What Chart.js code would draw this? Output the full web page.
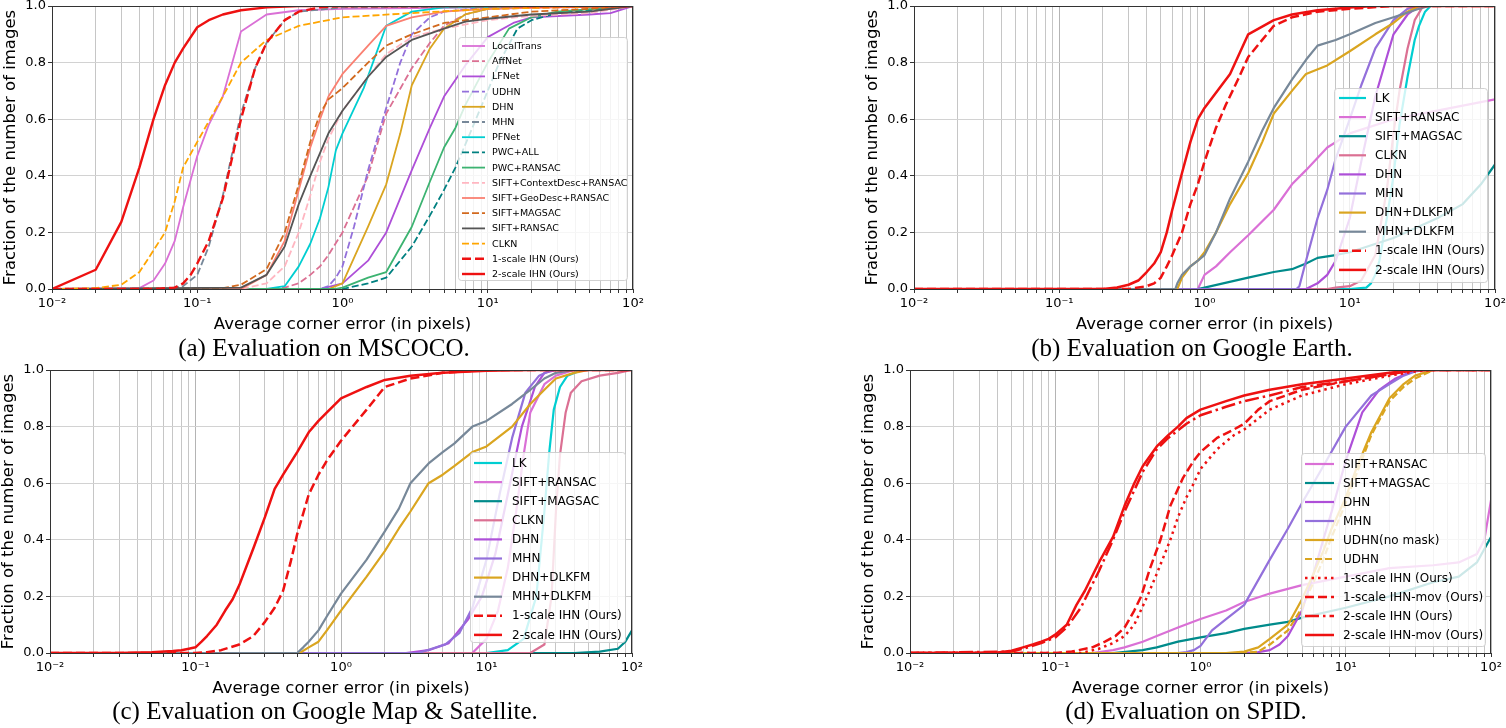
<!DOCTYPE html>
<html><head><meta charset="utf-8">
<script src="https://cdn.jsdelivr.net/npm/chart.js@4.4.1/dist/chart.umd.min.js"></script>
<style>
html,body{margin:0;padding:0;background:#fff;}
body{width:1506px;height:728px;overflow:hidden;position:relative;}
canvas{position:absolute;}
.cap{position:absolute;font-family:'Liberation Serif','DejaVu Serif',serif;font-size:25px;color:#000;white-space:nowrap;transform:translate(-50%,-50%);}
</style></head><body>
<script>
// ---------- tick labels ----------
const decadeValues = [0.01, 0.1, 1, 10, 100];
const decadeLabels = ['10\u207B\u00B2', '10\u207B\u00B9', '10\u2070', '10\u00B9', '10\u00B2'];
const yTickValues = [0, 0.2, 0.4, 0.6, 0.8, 1.0];
const xTitle = 'Average corner error (in pixels)';
const yTitle = 'Fraction of the number of images';

// ---------- (a) MSCOCO ----------
const a_LocalTrans = [[0.01,0],[0.04,0.003],[0.05,0.03],[0.06,0.09],[0.07,0.17],[0.08,0.29],[0.1,0.47],[0.12,0.58],[0.15,0.68],[0.2,0.91],[0.3,0.97],[0.5,0.985],[1,0.99],[10,0.995],[100,1]];
const a_AffNet = [[0.01,0],[0.3,0],[0.4,0.005],[0.5,0.02],[0.6,0.05],[0.7,0.08],[0.8,0.12],[1,0.2],[1.5,0.4],[2,0.62],[3,0.78],[4,0.87],[5,0.93],[7,0.97],[10,0.99],[100,1]];
const a_LFNet = [[0.01,0],[0.7,0],[1,0.02],[1.5,0.1],[2,0.2],[3,0.42],[4,0.57],[5,0.68],[7,0.79],[10,0.89],[15,0.94],[20,0.96],[50,0.97],[70,0.975],[100,1]];
const a_UDHN = [[0.01,0],[0.7,0],[0.8,0.01],[0.9,0.04],[1,0.08],[1.2,0.22],[1.5,0.42],[2,0.64],[2.5,0.8],[3,0.9],[4,0.96],[5,0.98],[10,0.995],[100,1]];
const a_DHN = [[0.01,0],[0.8,0],[1,0.02],[1.5,0.22],[2,0.37],[2.5,0.55],[3,0.72],[4,0.85],[5,0.92],[7,0.97],[10,0.99],[20,0.995],[100,1]];
const a_MHN = [[0.01,0],[0.06,0],[0.08,0.01],[0.1,0.05],[0.12,0.15],[0.15,0.33],[0.2,0.62],[0.25,0.78],[0.3,0.87],[0.4,0.95],[0.5,0.98],[1,0.995],[100,1]];
const a_PFNet = [[0.01,0],[0.3,0],[0.4,0.01],[0.5,0.08],[0.6,0.16],[0.7,0.25],[0.8,0.36],[0.9,0.49],[1,0.55],[1.4,0.71],[2,0.93],[3,0.98],[5,0.995],[100,1]];
const a_PWC_ALL = [[0.01,0],[1,0],[1.5,0.02],[2,0.04],[3,0.15],[4,0.26],[5,0.35],[6,0.43],[7,0.51],[10,0.7],[12,0.8],[16,0.92],[20,0.95],[30,0.975],[100,1]];
const a_PWC_RANSAC = [[0.01,0],[0.9,0],[1,0.005],[1.5,0.04],[2,0.06],[3,0.22],[4,0.38],[5,0.5],[6,0.57],[7,0.65],[10,0.8],[14,0.92],[20,0.96],[30,0.98],[100,1]];
const a_SIFT_Context = [[0.01,0],[0.2,0],[0.3,0.02],[0.4,0.08],[0.5,0.2],[0.6,0.33],[0.7,0.45],[0.8,0.53],[1,0.63],[1.5,0.75],[2,0.83],[3,0.89],[5,0.92],[10,0.95],[20,0.965],[50,0.975],[100,1]];
const a_SIFT_Geo = [[0.01,0],[0.2,0],[0.3,0.05],[0.4,0.17],[0.5,0.35],[0.6,0.5],[0.7,0.6],[0.8,0.68],[1,0.76],[1.5,0.86],[2,0.93],[3,0.96],[5,0.98],[10,0.99],[30,0.995],[100,1]];
const a_SIFT_MAGSAC = [[0.01,0],[0.15,0.003],[0.2,0.015],[0.3,0.07],[0.4,0.2],[0.5,0.37],[0.6,0.52],[0.7,0.62],[0.8,0.67],[1,0.71],[1.5,0.8],[2,0.86],[3,0.9],[5,0.94],[10,0.96],[20,0.98],[50,0.99],[100,1]];
const a_SIFT_RANSAC = [[0.01,0],[0.2,0.005],[0.3,0.05],[0.4,0.15],[0.5,0.3],[0.6,0.4],[0.8,0.55],[1,0.63],[1.5,0.75],[2,0.82],[3,0.88],[5,0.92],[7,0.945],[10,0.955],[20,0.97],[50,0.98],[100,1]];
const a_CLKN = [[0.01,0],[0.02,0.003],[0.03,0.015],[0.04,0.06],[0.045,0.1],[0.06,0.2],[0.07,0.31],[0.08,0.43],[0.1,0.52],[0.15,0.68],[0.2,0.8],[0.3,0.88],[0.5,0.93],[1,0.96],[3,0.975],[10,0.99],[30,0.995],[100,1]];
const a_IHN1 = [[0.01,0],[0.05,0],[0.07,0.005],[0.08,0.02],[0.09,0.05],[0.1,0.09],[0.12,0.17],[0.15,0.32],[0.2,0.6],[0.25,0.78],[0.3,0.87],[0.4,0.95],[0.5,0.98],[0.7,0.995],[1,1],[100,1]];
const a_IHN2 = [[0.01,0],[0.02,0.068],[0.03,0.237],[0.04,0.43],[0.05,0.6],[0.06,0.72],[0.07,0.8],[0.08,0.85],[0.1,0.925],[0.12,0.95],[0.15,0.97],[0.2,0.985],[0.3,0.995],[0.5,1],[100,1]];

// ---------- (b) Google Earth ----------
const b_LK = [[0.01,0],[10,0],[13,0.005],[14,0.02],[15,0.05],[16,0.1],[18,0.25],[20,0.4],[22,0.58],[25,0.75],[28,0.88],[30,0.93],[33,0.98],[36,1],[100,1]];
const b_SIFT_RANSAC = [[0.01,0],[0.9,0],[1,0.05],[1.2,0.08],[1.5,0.13],[2,0.19],[3,0.28],[4,0.37],[5,0.42],[7,0.5],[10,0.55],[20,0.6],[50,0.64],[100,0.67]];
const b_SIFT_MAGSAC = [[0.01,0],[0.9,0],[1,0.005],[2,0.04],[3,0.06],[4,0.07],[5,0.09],[6,0.11],[8,0.12],[10,0.13],[20,0.18],[40,0.25],[60,0.3],[80,0.37],[100,0.44]];
const b_CLKN = [[0.01,0],[7,0],[8,0.005],[10,0.01],[12,0.03],[15,0.12],[18,0.35],[20,0.55],[22,0.7],[25,0.85],[28,0.95],[32,1],[100,1]];
const b_DHN = [[0.01,0],[5,0],[6,0.02],[7,0.05],[8,0.1],[10,0.25],[12,0.45],[15,0.68],[20,0.9],[25,0.97],[30,1],[100,1]];
const b_MHN = [[0.01,0],[4.3,0],[4.5,0.01],[5,0.1],[6,0.25],[7,0.35],[8,0.46],[10,0.6],[12,0.72],[15,0.85],[20,0.95],[25,0.99],[30,1],[100,1]];
const b_DHN_DLKFM = [[0.01,0],[0.65,0],[0.7,0.04],[0.8,0.08],[0.9,0.1],[1,0.13],[1.2,0.2],[1.5,0.3],[2,0.41],[2.5,0.52],[3,0.62],[4,0.7],[5,0.76],[7,0.79],[10,0.84],[15,0.9],[20,0.94],[25,0.98],[30,1],[100,1]];
const b_MHN_DLKFM = [[0.01,0],[0.63,0],[0.65,0.02],[0.7,0.05],[0.8,0.08],[0.9,0.1],[1,0.12],[1.2,0.2],[1.5,0.32],[2,0.45],[2.5,0.56],[3,0.64],[4,0.74],[5,0.81],[6,0.86],[8,0.88],[10,0.9],[15,0.94],[20,0.96],[30,0.99],[35,1],[100,1]];
const b_IHN1 = [[0.01,0],[0.3,0],[0.4,0.01],[0.45,0.02],[0.5,0.04],[0.55,0.08],[0.6,0.12],[0.7,0.2],[0.8,0.3],[0.9,0.37],[1,0.45],[1.2,0.57],[1.4,0.65],[1.7,0.74],[2,0.82],[3,0.93],[4,0.96],[6,0.98],[10,0.99],[20,1],[100,1]];
const b_IHN2 = [[0.01,0],[0.2,0],[0.25,0.005],[0.3,0.015],[0.35,0.03],[0.4,0.06],[0.45,0.09],[0.5,0.13],[0.55,0.2],[0.6,0.28],[0.7,0.41],[0.8,0.52],[0.9,0.6],[1,0.64],[1.5,0.76],[2,0.9],[3,0.95],[4,0.97],[6,0.985],[10,0.995],[15,1],[100,1]];

// ---------- (c) Google Map & Satellite ----------
const c_LK = [[0.01,0],[10,0],[14,0.01],[18,0.05],[22,0.2],[25,0.5],[27,0.71],[29,0.86],[32,0.94],[36,0.98],[45,1],[100,1]];
const c_SIFT_RANSAC = [[0.01,0],[8,0],[10,0.05],[12,0.15],[14,0.3],[16,0.5],[18,0.7],[20,0.85],[25,0.95],[30,0.98],[40,1],[100,1]];
const c_SIFT_MAGSAC = [[0.01,0],[40,0],[60,0.005],[80,0.015],[90,0.04],[100,0.08]];
const c_CLKN = [[0.01,0],[20,0],[25,0.03],[28,0.2],[30,0.5],[32,0.7],[35,0.85],[38,0.92],[45,0.96],[60,0.98],[80,0.99],[100,1]];
const c_DHN = [[0.01,0],[2.8,0],[4,0.01],[5.5,0.035],[7.5,0.12],[9.3,0.2],[11.5,0.35],[14,0.56],[17.5,0.8],[21.5,0.94],[25,0.99],[30,1],[100,1]];
const c_MHN = [[0.01,0],[3.4,0],[5.2,0.03],[6.5,0.07],[8,0.16],[10,0.33],[12.3,0.56],[15,0.76],[18.5,0.92],[23,0.98],[28,1],[100,1]];
const c_DHN_DLKFM = [[0.01,0],[0.52,0],[0.6,0.02],[0.7,0.04],[0.8,0.08],[1,0.15],[1.5,0.27],[2,0.36],[2.5,0.44],[3,0.5],[4,0.6],[5,0.63],[6,0.66],[8,0.71],[10,0.73],[15,0.8],[20,0.88],[25,0.93],[30,0.97],[40,0.99],[50,1],[100,1]];
const c_MHN_DLKFM = [[0.01,0],[0.5,0],[0.55,0.02],[0.6,0.04],[0.7,0.08],[0.8,0.13],[1,0.21],[1.5,0.33],[2,0.43],[2.5,0.51],[3,0.6],[4,0.67],[5,0.71],[6,0.74],[8,0.8],[10,0.82],[15,0.88],[20,0.93],[25,0.97],[30,0.99],[40,1],[100,1]];
const c_IHN1 = [[0.01,0],[0.1,0],[0.12,0.003],[0.15,0.01],[0.2,0.03],[0.25,0.06],[0.3,0.11],[0.35,0.16],[0.4,0.22],[0.45,0.32],[0.5,0.42],[0.6,0.56],[0.7,0.63],[0.8,0.68],[1,0.75],[1.5,0.86],[2,0.94],[3,0.97],[5,0.99],[10,1],[100,1]];
const c_IHN2 = [[0.01,0],[0.03,0],[0.05,0.003],[0.07,0.007],[0.08,0.01],[0.09,0.015],[0.1,0.02],[0.11,0.04],[0.12,0.06],[0.14,0.1],[0.16,0.15],[0.18,0.19],[0.2,0.24],[0.25,0.37],[0.3,0.48],[0.35,0.58],[0.4,0.63],[0.5,0.71],[0.6,0.78],[0.7,0.82],[0.8,0.85],[1,0.9],[1.5,0.94],[2,0.965],[3,0.98],[5,0.99],[10,0.997],[20,1],[100,1]];

// ---------- (d) SPID ----------
const d_SIFT_RANSAC = [[0.01,0],[0.18,0],[0.25,0.01],[0.3,0.02],[0.4,0.04],[0.5,0.06],[0.7,0.09],[1,0.12],[1.5,0.15],[2,0.18],[3,0.21],[5,0.24],[10,0.27],[20,0.3],[40,0.31],[60,0.32],[80,0.35],[90,0.4],[100,0.54]];
const d_SIFT_MAGSAC = [[0.01,0],[0.25,0],[0.4,0.01],[0.5,0.02],[0.7,0.04],[1,0.055],[1.5,0.07],[2,0.085],[3,0.1],[4,0.11],[5,0.125],[10,0.16],[20,0.2],[40,0.25],[60,0.27],[80,0.32],[100,0.41]];
const d_DHN = [[0.01,0],[2,0],[2.5,0.003],[3,0.01],[3.5,0.03],[4,0.06],[5,0.15],[6,0.28],[7,0.4],[8,0.5],[10,0.68],[13,0.85],[17,0.93],[22,0.97],[30,1],[100,1]];
const d_MHN = [[0.01,0],[0.7,0],[0.8,0.003],[0.9,0.01],[1,0.025],[1.2,0.08],[1.5,0.12],[2,0.17],[3,0.33],[4,0.44],[5,0.53],[7,0.66],[10,0.8],[15,0.91],[20,0.95],[25,0.98],[30,0.995],[35,1],[100,1]];
const d_UDHN_nomask = [[0.01,0],[1.5,0],[2,0.005],[2.5,0.02],[3,0.05],[4,0.1],[5,0.19],[6,0.28],[7,0.36],[8,0.44],[10,0.55],[12,0.66],[15,0.78],[20,0.9],[25,0.95],[30,0.98],[40,1],[100,1]];
const d_UDHN = [[0.01,0],[2,0],[2.5,0.005],[3,0.03],[4,0.08],[5,0.16],[6,0.25],[7,0.33],[8,0.41],[10,0.53],[12,0.64],[15,0.77],[20,0.89],[25,0.94],[30,0.97],[40,1],[100,1]];
const d_IHN1 = [[0.01,0],[0.15,0],[0.2,0.015],[0.25,0.035],[0.3,0.06],[0.35,0.1],[0.43,0.2],[0.5,0.28],[0.62,0.4],[0.7,0.48],[0.8,0.55],[0.88,0.59],[1,0.65],[1.3,0.72],[1.7,0.77],[2,0.79],[3,0.86],[5,0.91],[10,0.95],[20,0.98],[30,0.995],[40,1],[100,1]];
const d_IHN1_mov = [[0.01,0],[0.1,0],[0.13,0.005],[0.18,0.02],[0.22,0.04],[0.26,0.06],[0.3,0.09],[0.35,0.15],[0.39,0.2],[0.45,0.3],[0.53,0.4],[0.62,0.52],[0.7,0.58],[0.76,0.62],[0.9,0.68],[1,0.71],[1.3,0.76],[1.7,0.79],[2,0.81],[2.5,0.86],[3,0.89],[5,0.93],[10,0.96],[20,0.985],[30,1],[100,1]];
const d_IHN2 = [[0.01,0],[0.05,0.005],[0.06,0.015],[0.08,0.035],[0.1,0.055],[0.12,0.09],[0.15,0.16],[0.2,0.29],[0.25,0.4],[0.3,0.5],[0.4,0.64],[0.5,0.72],[0.6,0.76],[0.8,0.81],[1,0.84],[1.5,0.87],[2,0.89],[3,0.91],[5,0.94],[10,0.96],[20,0.985],[30,1],[100,1]];
const d_IHN2_mov = [[0.01,0],[0.04,0.002],[0.05,0.008],[0.06,0.02],[0.07,0.03],[0.08,0.04],[0.09,0.05],[0.1,0.065],[0.12,0.1],[0.14,0.17],[0.16,0.22],[0.2,0.32],[0.25,0.41],[0.3,0.52],[0.35,0.6],[0.4,0.66],[0.5,0.73],[0.6,0.77],[0.7,0.8],[0.8,0.83],[1,0.86],[1.5,0.89],[2,0.91],[3,0.93],[5,0.95],[10,0.97],[20,0.99],[30,1],[100,1]];

// ---------- styles ----------
const RED = '#EE1111';
const DASH = [7, 3], RDASH = [9, 4], DOT = [2.5, 4], DASHDOT = [14, 4, 2.5, 4];
const FONT = 'DejaVu Sans';

const panels = [
  { plot: {l:52, t:6, r:633, b:289}, caption: '(a) Evaluation on MSCOCO.', capX: 324, capY: 348,
    legend: {x0:458, y0:37, x1:627, y1:280, firstY:46, step:15.2, hx0:462, hx1:485, tx:492, font:9.5},
    series: [
      ['LocalTrans', a_LocalTrans, '#DA70D6', [], 1.8],
      ['AffNet', a_AffNet, '#DB7093', DASH, 1.8],
      ['LFNet', a_LFNet, '#AE4FD8', [], 1.8],
      ['UDHN', a_UDHN, '#9370DB', DASH, 1.8],
      ['DHN', a_DHN, '#DAA520', [], 1.8],
      ['MHN', a_MHN, '#778899', DASH, 1.8],
      ['PFNet', a_PFNet, '#00CED1', [], 1.8],
      ['PWC+ALL', a_PWC_ALL, '#008080', DASH, 1.8],
      ['PWC+RANSAC', a_PWC_RANSAC, '#3CB371', [], 1.8],
      ['SIFT+ContextDesc+RANSAC', a_SIFT_Context, '#FFB6C1', DASH, 1.8],
      ['SIFT+GeoDesc+RANSAC', a_SIFT_Geo, '#FA8072', [], 1.8],
      ['SIFT+MAGSAC', a_SIFT_MAGSAC, '#D2691E', DASH, 1.8],
      ['SIFT+RANSAC', a_SIFT_RANSAC, '#555555', [], 1.8],
      ['CLKN', a_CLKN, '#FFA500', DASH, 1.8],
      ['1-scale IHN (Ours)', a_IHN1, RED, RDASH, 2.4],
      ['2-scale IHN (Ours)', a_IHN2, RED, [], 2.4]
    ]},
  { plot: {l:914, t:6, r:1495, b:289}, caption: '(b) Evaluation on Google Earth.', capX: 1192, capY: 348,
    legend: {x0:1334, y0:88, x1:1487, y1:282, firstY:98, step:19.1, hx0:1339, hx1:1366, tx:1375, font:12},
    series: [
      ['LK', b_LK, '#00CED1', [], 2.2],
      ['SIFT+RANSAC', b_SIFT_RANSAC, '#DA70D6', [], 2.2],
      ['SIFT+MAGSAC', b_SIFT_MAGSAC, '#008B8B', [], 2.2],
      ['CLKN', b_CLKN, '#DB7093', [], 2.2],
      ['DHN', b_DHN, '#AE4FD8', [], 2.2],
      ['MHN', b_MHN, '#9370DB', [], 2.2],
      ['DHN+DLKFM', b_DHN_DLKFM, '#DAA520', [], 2.2],
      ['MHN+DLKFM', b_MHN_DLKFM, '#778899', [], 2.2],
      ['1-scale IHN (Ours)', b_IHN1, RED, RDASH, 2.5],
      ['2-scale IHN (Ours)', b_IHN2, RED, [], 2.5]
    ]},
  { plot: {l:50, t:370, r:632, b:653}, caption: '(c) Evaluation on Google Map & Satellite.', capX: 325, capY: 711,
    legend: {x0:470, y0:452, x1:625, y1:642, firstY:463, step:19.1, hx0:474, hx1:502, tx:512, font:12},
    series: [
      ['LK', c_LK, '#00CED1', [], 2.2],
      ['SIFT+RANSAC', c_SIFT_RANSAC, '#DA70D6', [], 2.2],
      ['SIFT+MAGSAC', c_SIFT_MAGSAC, '#008B8B', [], 2.2],
      ['CLKN', c_CLKN, '#DB7093', [], 2.2],
      ['DHN', c_DHN, '#AE4FD8', [], 2.2],
      ['MHN', c_MHN, '#9370DB', [], 2.2],
      ['DHN+DLKFM', c_DHN_DLKFM, '#DAA520', [], 2.2],
      ['MHN+DLKFM', c_MHN_DLKFM, '#778899', [], 2.2],
      ['1-scale IHN (Ours)', c_IHN1, RED, RDASH, 2.5],
      ['2-scale IHN (Ours)', c_IHN2, RED, [], 2.5]
    ]},
  { plot: {l:910, t:370, r:1491, b:653}, caption: '(d) Evaluation on SPID.', capX: 1186, capY: 711,
    legend: {x0:1301, y0:453, x1:1485, y1:646, firstY:464, step:19.0, hx0:1305, hx1:1334, tx:1343, font:12},
    series: [
      ['SIFT+RANSAC', d_SIFT_RANSAC, '#DA70D6', [], 2.2],
      ['SIFT+MAGSAC', d_SIFT_MAGSAC, '#008B8B', [], 2.2],
      ['DHN', d_DHN, '#AE4FD8', [], 2.2],
      ['MHN', d_MHN, '#9370DB', [], 2.2],
      ['UDHN(no mask)', d_UDHN_nomask, '#DAA520', [], 2.2],
      ['UDHN', d_UDHN, '#DAA520', DASH, 2.2],
      ['1-scale IHN (Ours)', d_IHN1, RED, DOT, 2.5],
      ['1-scale IHN-mov (Ours)', d_IHN1_mov, RED, RDASH, 2.5],
      ['2-scale IHN (Ours)', d_IHN2, RED, DASHDOT, 2.5],
      ['2-scale IHN-mov (Ours)', d_IHN2_mov, RED, [], 2.5]
    ]}
];

// log-scale grid ticks: 1..9 x 10^e
function logTicks() {
  const out = [];
  for (let e = -2; e <= 1; e++) for (let k = 1; k <= 9; k++) out.push(parseFloat((k * Math.pow(10, e)).toPrecision(6)));
  out.push(100);
  return out;
}
function isDecade(v) { const l = Math.log10(v); return Math.abs(l - Math.round(l)) < 1e-9; }
function decadeLabel(v) {
  for (let i = 0; i < decadeValues.length; i++) if (Math.abs(v - decadeValues[i]) < 1e-9 * decadeValues[i]) return decadeLabels[i];
  return '';
}

const framePlugin = {
  id: 'frame',
  afterDatasetsDraw(chart) {
    const {ctx, chartArea: a} = chart;
    ctx.save();
    ctx.strokeStyle = '#333';
    ctx.lineWidth = 1;
    ctx.strokeRect(Math.round(a.left) + 0.5, Math.round(a.top) + 0.5, Math.round(a.right - a.left) - 1, Math.round(a.bottom - a.top));
    ctx.restore();
  }
};

const legendPlugin = {
  id: 'boxLegend',
  afterDraw(chart, args, opts) {
    const L = opts.cfg; if (!L) return;
    const ox = opts.ox, oy = opts.oy;
    const ctx = chart.ctx;
    ctx.save();
    const x = L.x0 - ox + 0.5, y = L.y0 - oy + 0.5, w = L.x1 - L.x0, h = L.y1 - L.y0, r = 3;
    ctx.beginPath();
    ctx.moveTo(x + r, y); ctx.lineTo(x + w - r, y); ctx.quadraticCurveTo(x + w, y, x + w, y + r);
    ctx.lineTo(x + w, y + h - r); ctx.quadraticCurveTo(x + w, y + h, x + w - r, y + h);
    ctx.lineTo(x + r, y + h); ctx.quadraticCurveTo(x, y + h, x, y + h - r);
    ctx.lineTo(x, y + r); ctx.quadraticCurveTo(x, y, x + r, y); ctx.closePath();
    ctx.fillStyle = 'rgba(255,255,255,0.8)'; ctx.fill();
    ctx.strokeStyle = 'rgba(204,204,204,0.9)'; ctx.lineWidth = 1; ctx.stroke();
    ctx.font = L.font + 'px "' + FONT + '"';
    ctx.textBaseline = 'middle'; ctx.textAlign = 'left';
    chart.data.datasets.forEach((ds, i) => {
      const yy = L.firstY + i * L.step - oy;
      ctx.beginPath();
      ctx.strokeStyle = ds.borderColor; ctx.lineWidth = ds.borderWidth;
      ctx.setLineDash(ds.borderDash || []);
      ctx.moveTo(L.hx0 - ox, yy); ctx.lineTo(L.hx1 - ox, yy); ctx.stroke();
      ctx.setLineDash([]);
      ctx.fillStyle = '#000';
      ctx.fillText(ds.label, L.tx - ox, yy + 0.5);
    });
    ctx.restore();
  }
};

panels.forEach((p, pi) => {
  const cl = p.plot.l - 52, ct = p.plot.t - 20;
  const cw = p.plot.r + 30 - cl, ch = p.plot.b + 50 - ct;
  const cv = document.createElement('canvas');
  cv.width = cw; cv.height = ch;
  cv.style.left = cl + 'px'; cv.style.top = ct + 'px';
  cv.style.width = cw + 'px'; cv.style.height = ch + 'px';
  document.body.appendChild(cv);

  const n = p.series.length;
  const datasets = p.series.map((s, i) => ({
    label: s[0],
    data: s[1].map(([x, y]) => ({x, y})),
    borderColor: s[2], backgroundColor: s[2],
    borderDash: s[3], borderWidth: s[4],
    pointRadius: 0, tension: 0, fill: false,
    borderJoinStyle: 'round',
    order: n - 1 - i
  }));

  new Chart(cv, {
    type: 'line',
    data: {datasets},
    options: {
      responsive: false, animation: false, devicePixelRatio: 1,
      events: [],
      layout: {padding: {left: 0, top: 20, right: 30, bottom: 0}},
      plugins: {legend: {display: false}, tooltip: {enabled: false},
        boxLegend: {cfg: p.legend, ox: cl, oy: ct}},
      scales: {
        x: {
          type: 'logarithmic', min: 0.01, max: 100,
          afterBuildTicks: (axis) => { axis.ticks = logTicks().map(v => ({value: v, major: isDecade(v)})); },
          afterFit: (s) => { s.height = 50; },
          ticks: {autoSkip: false, maxRotation: 0, minRotation: 0, padding: 3, color: '#000',
            font: {family: FONT, size: 13}, callback: (v) => decadeLabel(v)},
          grid: {color: (c) => (c.tick && isDecade(c.tick.value)) ? '#b4b4b4' : '#c6c6c6',
            lineWidth: 1, tickLength: 4, tickColor: '#333', drawTicks: true},
          border: {display: true, color: '#333'},
          title: {display: true, text: xTitle, color: '#000', font: {family: FONT, size: 16.5},
            padding: {top: 0, bottom: 4.4}}
        },
        y: {
          type: 'linear', min: 0, max: 1,
          afterBuildTicks: (axis) => { axis.ticks = yTickValues.map(v => ({value: v})); },
          afterFit: (s) => { s.width = 52; },
          ticks: {padding: 2, color: '#000', font: {family: FONT, size: 13}, callback: (v) => Number(v).toFixed(1)},
          grid: {color: '#d2d2d2', lineWidth: 1, tickLength: 4, tickColor: '#333'},
          border: {display: true, color: '#333'},
          title: {display: true, text: yTitle, color: '#000', font: {family: FONT, size: 16.5},
            padding: {top: 1, bottom: 0}}
        }
      }
    },
    plugins: [framePlugin, legendPlugin]
  });

  const cap = document.createElement('div');
  cap.className = 'cap';
  cap.textContent = p.caption;
  cap.style.left = p.capX + 'px'; cap.style.top = p.capY + 'px';
  document.body.appendChild(cap);
});
</script>
</body></html>
